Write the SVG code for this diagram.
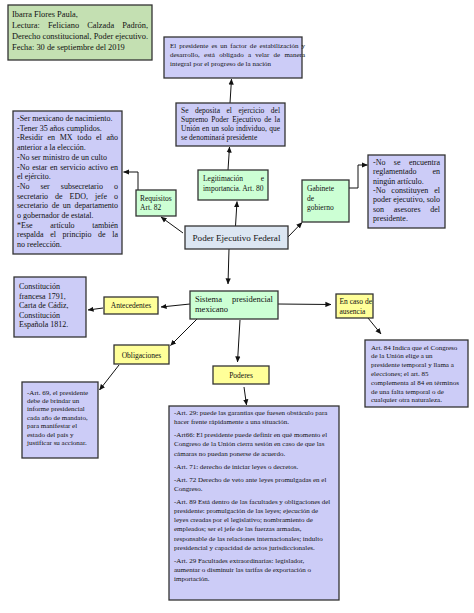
<svg xmlns="http://www.w3.org/2000/svg" width="474" height="613" viewBox="0 0 474 613">
<defs>
<style>
.b{stroke:#333;stroke-width:1.3}
.lav{fill:#ccccf7}
.grn{fill:#ccffd4}
.yel{fill:#ffff99}
.info{fill:#c4e0b2}
.pef{fill:#dce6f2}
text{font-family:"Liberation Serif","Times New Roman",serif;fill:#111}
.s7{font-size:7px}
.s75{font-size:7.5px}
.s8{font-size:8px}
.s84{font-size:8.4px}
.c{text-anchor:middle}
.e{text-anchor:end}
#connectors path{fill:none;stroke:#111;stroke-width:1;marker-end:url(#ah)}
</style>
<marker id="ah" viewBox="0 0 8 8" refX="7.5" refY="4" markerWidth="6" markerHeight="6" markerUnits="userSpaceOnUse" orient="auto"><path d="M0,0.5 L8,4 L0,7.5 z" fill="#111"/></marker>
</defs>
<rect width="474" height="613" fill="#fff"/>

<g id="connectors">
<path d="M230,103 L231.5,79"/>
<path d="M228,170 L229.5,147"/>
<path d="M235.5,226 L237,201.5"/>
<path d="M183,233 L161,217"/>
<path d="M138,190 V172 H123.5"/>
<path d="M288,237 L302,222.5"/>
<path d="M349,188 H358 V165 H367.5"/>
<path d="M229,249 L228,284"/>
<path d="M190,304 L161,307"/>
<path d="M103,308 L88,310"/>
<path d="M197,319 L170.5,345.5"/>
<path d="M240,320 L237.5,362"/>
<path d="M119,365 L99.5,390"/>
<path d="M244,387 L246.5,405"/>
<path d="M278,304 L331,304.5"/>
<path d="M368,318 L381,334"/>
</g>

<g id="info">
<rect class="b info" x="8" y="5" width="144" height="55"/>
<text class="s84" x="12" y="17">Ibarra Flores Paula,</text>
<text class="s84" x="12" y="28" word-spacing="6" textLength="136" lengthAdjust="spacing">Lectura: Feliciano Calzada Padrón,</text>
<text class="s84" x="12" y="39">Derecho constitucional, Poder ejecutivo.</text>
<text class="s84" x="12" y="50">Fecha: 30 de septiembre del 2019</text>
</g>

<g id="factor">
<rect class="b lav" x="164" y="37" width="138" height="41"/>
<text class="s7" x="170" y="47.5" word-spacing="1.2" textLength="135" lengthAdjust="spacing">El presidente es un factor de estabilización y</text>
<text class="s7" x="170" y="56.5" word-spacing="2.5" textLength="135" lengthAdjust="spacing">desarrollo, está obligado a velar de manera</text>
<text class="s7" x="170" y="65.5">integral por el progreso de la nación</text>
</g>

<g id="deposita">
<rect class="b lav" x="176" y="103" width="109" height="43"/>
<text class="s75" x="181" y="113" word-spacing="4.6" textLength="99" lengthAdjust="spacing">Se deposita el ejercicio del</text>
<text class="s75" x="181" y="122" word-spacing="1.4" textLength="99" lengthAdjust="spacing">Supremo Poder Ejecutivo de la</text>
<text class="s75" x="181" y="131" word-spacing="0.4" textLength="99" lengthAdjust="spacing">Unión en un solo individuo, que</text>
<text class="s75" x="181" y="140">se denominará presidente</text>
</g>

<g id="legitimacion">
<rect class="b grn" x="198" y="170" width="70" height="30"/>
<text class="s75" x="203" y="181">Legitimación</text>
<text class="s75 e" x="264" y="181">e</text>
<text class="s75" x="203" y="190.5">importancia. Art. 80</text>
</g>

<g id="poder">
<rect class="b pef" x="185" y="226" width="103" height="23"/>
<text class="c" style="font-size:9.1px" x="236.5" y="240.5">Poder Ejecutivo Federal</text>
</g>

<g id="requisitos">
<rect class="b grn" x="136" y="190" width="40" height="26"/>
<text class="s75" x="140" y="201">Requisitos</text>
<text class="s75" x="140" y="210">Art. 82</text>
</g>

<g id="requisitos-detalle">
<rect class="b lav" x="13" y="111" width="109" height="143"/>
<text class="s8" x="17" y="121">-Ser mexicano de nacimiento.</text>
<text class="s8" x="17" y="130.7">-Tener 35 años cumplidos.</text>
<text class="s8" x="17" y="140.4" word-spacing="2.6" textLength="101" lengthAdjust="spacing">-Residir en MX todo el año</text>
<text class="s8" x="17" y="150.1">anterior a la elección.</text>
<text class="s8" x="17" y="159.8">-No ser ministro de un culto</text>
<text class="s8" x="17" y="169.5" word-spacing="0.7" textLength="101" lengthAdjust="spacing">-No estar en servicio activo en</text>
<text class="s8" x="17" y="179.2">el ejército.</text>
<text class="s8" x="17" y="188.9" word-spacing="9" textLength="101" lengthAdjust="spacing">-No ser subsecretario o</text>
<text class="s8" x="17" y="198.6" word-spacing="5" textLength="101" lengthAdjust="spacing">secretario de EDO, jefe o</text>
<text class="s8" x="17" y="208.3" word-spacing="1.6" textLength="101" lengthAdjust="spacing">secretario de un departamento</text>
<text class="s8" x="17" y="218">o gobernador de estatal.</text>
<text class="s8" x="17" y="227.7" word-spacing="15.6" textLength="101" lengthAdjust="spacing">*Ese artículo también</text>
<text class="s8" x="17" y="237.4" word-spacing="4.6" textLength="101" lengthAdjust="spacing">respalda el principio de la</text>
<text class="s8" x="17" y="247.1">no reelección.</text>
</g>

<g id="gabinete">
<rect class="b grn" x="302" y="180" width="47" height="42"/>
<text class="s75" x="307" y="191">Gabinete</text>
<text class="s75" x="307" y="200.5">de</text>
<text class="s75" x="307" y="210">gobierno</text>
</g>

<g id="gabinete-detalle">
<rect class="b lav" x="368" y="155" width="77" height="73"/>
<text class="s8" x="373" y="165" word-spacing="6.4" textLength="67" lengthAdjust="spacing">-No se encuentra</text>
<text class="s8" x="373" y="174.3" word-spacing="13.9" textLength="67" lengthAdjust="spacing">reglamentado en</text>
<text class="s8" x="373" y="183.6">ningún artículo.</text>
<text class="s8" x="373" y="192.9" word-spacing="3.9" textLength="67" lengthAdjust="spacing">-No constituyen el</text>
<text class="s8" x="373" y="202.2" textLength="67" lengthAdjust="spacing">poder ejecutivo, solo</text>
<text class="s8" x="373" y="211.5" word-spacing="7.7" textLength="67" lengthAdjust="spacing">son asesores del</text>
<text class="s8" x="373" y="220.8">presidente.</text>
</g>

<g id="sistema">
<rect class="b grn" x="190" y="291" width="88" height="28"/>
<text style="font-size:8.5px" x="195" y="302">Sistema</text>
<text style="font-size:8.5px" class="e" x="273" y="302">presidencial</text>
<text style="font-size:8.5px" x="195" y="312">mexicano</text>
</g>

<g id="antecedentes">
<rect class="b yel" x="104" y="297" width="54" height="17"/>
<text class="s75 c" x="131" y="308">Antecedentes</text>
</g>

<g id="constitucion">
<rect class="b lav" x="14" y="277" width="72" height="60"/>
<text class="s8" x="19" y="289">Constitución</text>
<text class="s8" x="19" y="298.5">francesa 1791,</text>
<text class="s8" x="19" y="308">Carta de Cádiz,</text>
<text class="s8" x="19" y="317.5">Constitución</text>
<text class="s8" x="19" y="327">Española 1812.</text>
</g>

<g id="obligaciones">
<rect class="b yel" x="114" y="345" width="55" height="19"/>
<text class="s75 c" x="141.5" y="357.5">Obligaciones</text>
</g>

<g id="art69">
<rect class="b lav" x="22" y="382" width="76" height="76"/>
<text class="s7" x="27" y="394.5">-Art. 69, el presidente</text>
<text class="s7" x="27" y="402.9">debe de brindar un</text>
<text class="s7" x="27" y="411.3">informe presidencial</text>
<text class="s7" x="27" y="419.7">cada año de mandato,</text>
<text class="s7" x="27" y="428.1">para manifestar el</text>
<text class="s7" x="27" y="436.5">estado del país y</text>
<text class="s7" x="27" y="444.9">justificar su accionar.</text>
</g>

<g id="poderes">
<rect class="b yel" x="213" y="366" width="56" height="18"/>
<text class="s75 c" x="241" y="378">Poderes</text>
</g>

<g id="poderes-detalle">
<rect class="b lav" x="169" y="406" width="170" height="194"/>
<text class="s7" x="174" y="415">-Art. 29: puede las garantías que fuesen obstáculo para</text>
<text class="s7" x="174" y="424.2">hacer frente rápidamente a una situación.</text>
<text class="s7" x="174" y="437.2">-Art66: El presidente puede definir en qué momento el</text>
<text class="s7" x="174" y="446.4">Congreso de la Unión cierra sesión en caso de que las</text>
<text class="s7" x="174" y="455.6">cámaras no puedan ponerse de acuerdo.</text>
<text class="s7" x="174" y="468.6">-Art. 71: derecho de iniciar leyes o decretos.</text>
<text class="s7" x="174" y="481.6">-Art. 72 Derecho de veto ante leyes promulgadas en el</text>
<text class="s7" x="174" y="490.8">Congreso.</text>
<text class="s7" x="174" y="503.8">-Art. 89 Está dentro de las facultades y obligaciones del</text>
<text class="s7" x="174" y="513">presidente: promulgación de las leyes; ejecución de</text>
<text class="s7" x="174" y="522.2">leyes creadas por el legislativo; nombramiento de</text>
<text class="s7" x="174" y="531.4">empleados; ser el jefe de las fuerzas armadas,</text>
<text class="s7" x="174" y="540.6">responsable de las relaciones internacionales; indulto</text>
<text class="s7" x="174" y="549.8">presidencial y capacidad de actos jurisdiccionales.</text>
<text class="s7" x="174" y="562.8">-Art. 29 Facultades extraordinarias: legislador,</text>
<text class="s7" x="174" y="572">aumentar o disminuir las tarifas de exportación o</text>
<text class="s7" x="174" y="581.2">importación.</text>
</g>

<g id="ausencia">
<rect class="b yel" x="336" y="294" width="37" height="24"/>
<text class="s75" x="339.5" y="304">En caso de</text>
<text class="s75" x="339.5" y="313.5">ausencia</text>
</g>

<g id="art84">
<rect class="b lav" x="365" y="340" width="103" height="67"/>
<text class="s7" x="371" y="349.5">Art. 84 Indica que el Congreso</text>
<text class="s7" x="371" y="358.3">de la Unión elige a un</text>
<text class="s7" x="371" y="367.1">presidente temporal y llama a</text>
<text class="s7" x="371" y="375.9">elecciones; el art. 85</text>
<text class="s7" x="371" y="384.7">complementa al 84 en términos</text>
<text class="s7" x="371" y="393.5">de una falta temporal o de</text>
<text class="s7" x="371" y="402.3">cualquier otra naturaleza.</text>
</g>
</svg>
